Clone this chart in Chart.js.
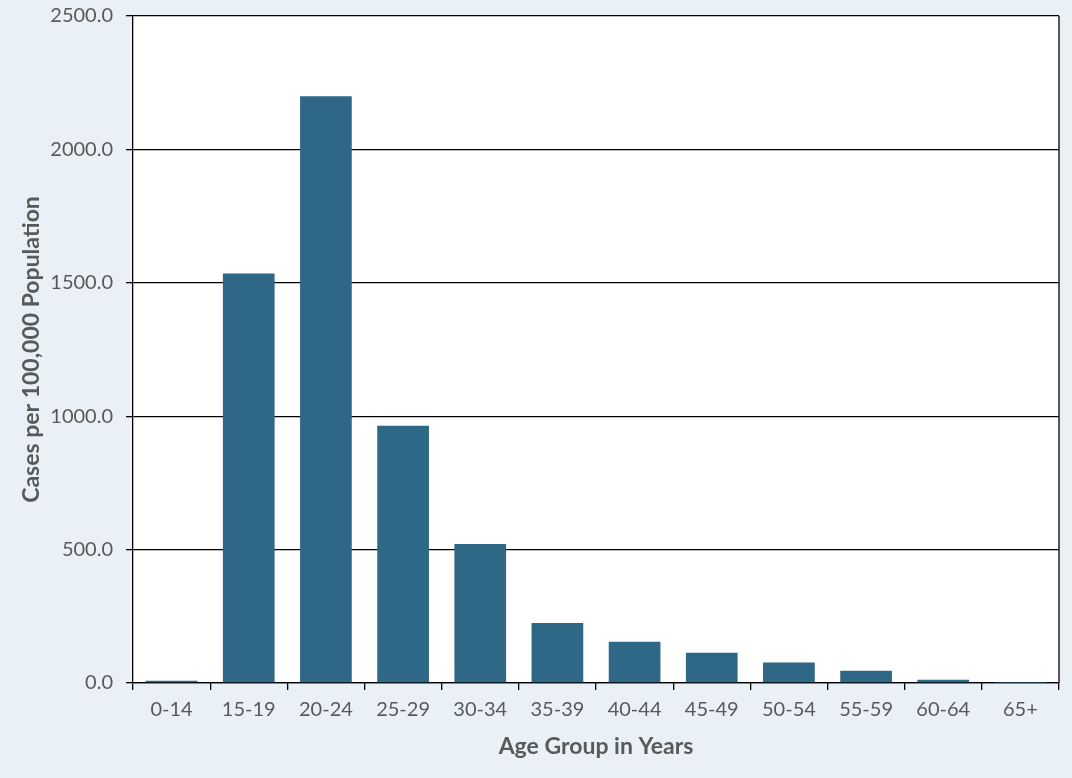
<!DOCTYPE html>
<html>
<head>
<meta charset="utf-8">
<script src="https://cdn.jsdelivr.net/npm/chart.js@4/dist/chart.umd.min.js"></script>
<style>
  html, body { margin: 0; padding: 0; background: #E9F1F7; }
  #wrap { width: 1072px; height: 778px; position: relative; }
</style>
</head>
<body>
<div id="wrap"><canvas id="rateChart"></canvas></div>
<script>
// age groups and rates (cases per 100,000)
var ageGroups = ['0-14', '15-19', '20-24', '25-29', '30-34', '35-39', '40-44', '45-49', '50-54', '55-59', '60-64', '65+'];
var rates = [8.0, 1535.0, 2199.0, 964.0, 521.0, 225.0, 155.0, 113.0, 77.0, 46.0, 12.0, 1.0];
var yMin = 0, yMax = 2500, yStep = 500;

var textColor = '#595959';
var fontFam = 'Lato, "Open Sans", sans-serif';

// white plot area + black frame on the right
var plotBox = {
    id: 'plotBox',
    beforeDraw: function(chart) {
        var a = chart.chartArea, ctx = chart.ctx;
        ctx.save();
        ctx.fillStyle = '#ffffff';
        ctx.fillRect(a.left, a.top, a.right - a.left, a.bottom - a.top);
        ctx.restore();
    },
    afterDatasetsDraw: function(chart) {
        var a = chart.chartArea, ctx = chart.ctx;
        ctx.save();
        ctx.strokeStyle = '#000000';
        ctx.lineWidth = 1.3;
        ctx.beginPath();
        ctx.moveTo(a.right, a.top);
        ctx.lineTo(a.right, a.bottom);
        ctx.stroke();
        ctx.restore();
    }
};

var ctx = document.getElementById('rateChart').getContext('2d');
new Chart(ctx, {
    type: 'bar',
    data: {
        labels: ageGroups,
        datasets: [{
            label: 'Rate',
            data: rates,
            backgroundColor: '#2F6786',
            borderWidth: 0,
            barPercentage: 0.67,
            categoryPercentage: 1.0
        }]
    },
    options: {
        responsive: true,
        maintainAspectRatio: false,
        animation: false,
        layout: { padding: { top: 16, right: 13, left: 0, bottom: 0 } },
        plugins: {
            legend: { display: false },
            tooltip: { enabled: false }
        },
        scales: {
            x: {
                grid: {
                    display: true,
                    drawOnChartArea: false,
                    drawTicks: true,
                    tickLength: 7,
                    color: '#000000',
                    lineWidth: 1.3
                },
                border: { display: true, color: '#000000', width: 1.3 },
                ticks: {
                    color: textColor,
                    font: { family: fontFam, size: 20 },
                    padding: 8,
                    maxRotation: 0
                },
                title: {
                    display: true,
                    text: 'Age Group in Years',
                    color: textColor,
                    font: { family: fontFam, size: 23, weight: 'bold' },
                    padding: { top: 4, bottom: 18 }
                },
                afterFit: function(axis) { axis.height = 95; }
            },
            y: {
                min: yMin,
                max: yMax,
                ticks: {
                    stepSize: yStep,
                    color: textColor,
                    font: { family: fontFam, size: 20 },
                    padding: 13,
                    callback: function(v) { return v.toFixed(1); }
                },
                grid: {
                    color: '#000000',
                    lineWidth: 1.3,
                    drawTicks: true,
                    tickLength: 7
                },
                border: { display: true, color: '#000000', width: 1.3 },
                title: {
                    display: true,
                    text: 'Cases per 100,000 Population',
                    color: textColor,
                    font: { family: fontFam, size: 23, weight: 'bold' },
                    padding: { top: 18, bottom: 0 }
                },
                afterFit: function(axis) {
                    axis.width = 133;
                    axis.paddingTop = 0;
                    axis.paddingBottom = 0;
                }
            }
        }
    },
    plugins: [plotBox]
});
</script>
</body>
</html>
